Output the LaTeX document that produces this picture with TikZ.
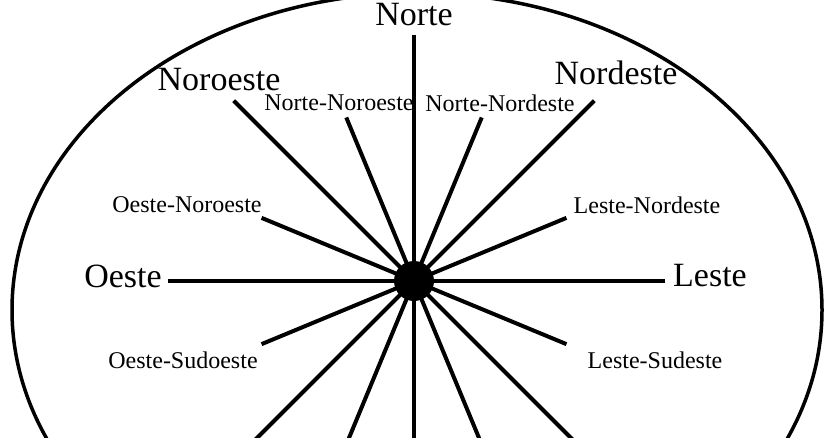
\documentclass[tikz,border=0pt]{standalone}
\usepackage{fontspec}
\setmainfont{Liberation Serif}
\begin{document}
\begin{tikzpicture}[x=1pt,y=-1pt,
  spoke/.style={line width=4pt},
  big/.style={font=\fontsize{34}{36}\selectfont},
  small/.style={font=\fontsize{24}{26}\selectfont}]
\useasboundingbox (0,0) rectangle (832,437);
\clip (0,0) rectangle (832,437);
\draw[line width=3.5pt] (417,310) ellipse [x radius=405, y radius=317];
\coordinate (c) at (414,281);
\foreach \a/\l in {90/246,270/246,0/251,180/246,45/255,135/255,225/255,315/255,
  22.5/165,67.5/177,112.5/177,157.5/165,202.5/165,247.5/177,292.5/177,337.5/165}{
  \draw[spoke] (c) -- ++(\a:\l);
}
\fill (c) circle (20);
\node[big] (n) at (414,15) {Norte};
\node[big] (nw) at (219,80) {Noroeste};
\node[big] (ne) at (616,73) {Nordeste};
\node[big] (w) at (123,276) {Oeste};
\node[big] (e) at (710,276) {Leste};
\node[small] (nnw) at (339,103) {Norte-Noroeste};
\node[small] (nne) at (500,103) {Norte-Nordeste};
\node[small] (wnw) at (187,205) {Oeste-Noroeste};
\node[small] (ene) at (647,205) {Leste-Nordeste};
\node[small] (wsw) at (183,360) {Oeste-Sudoeste};
\node[small] (ese) at (655,360) {Leste-Sudeste};
\end{tikzpicture}
\end{document}
